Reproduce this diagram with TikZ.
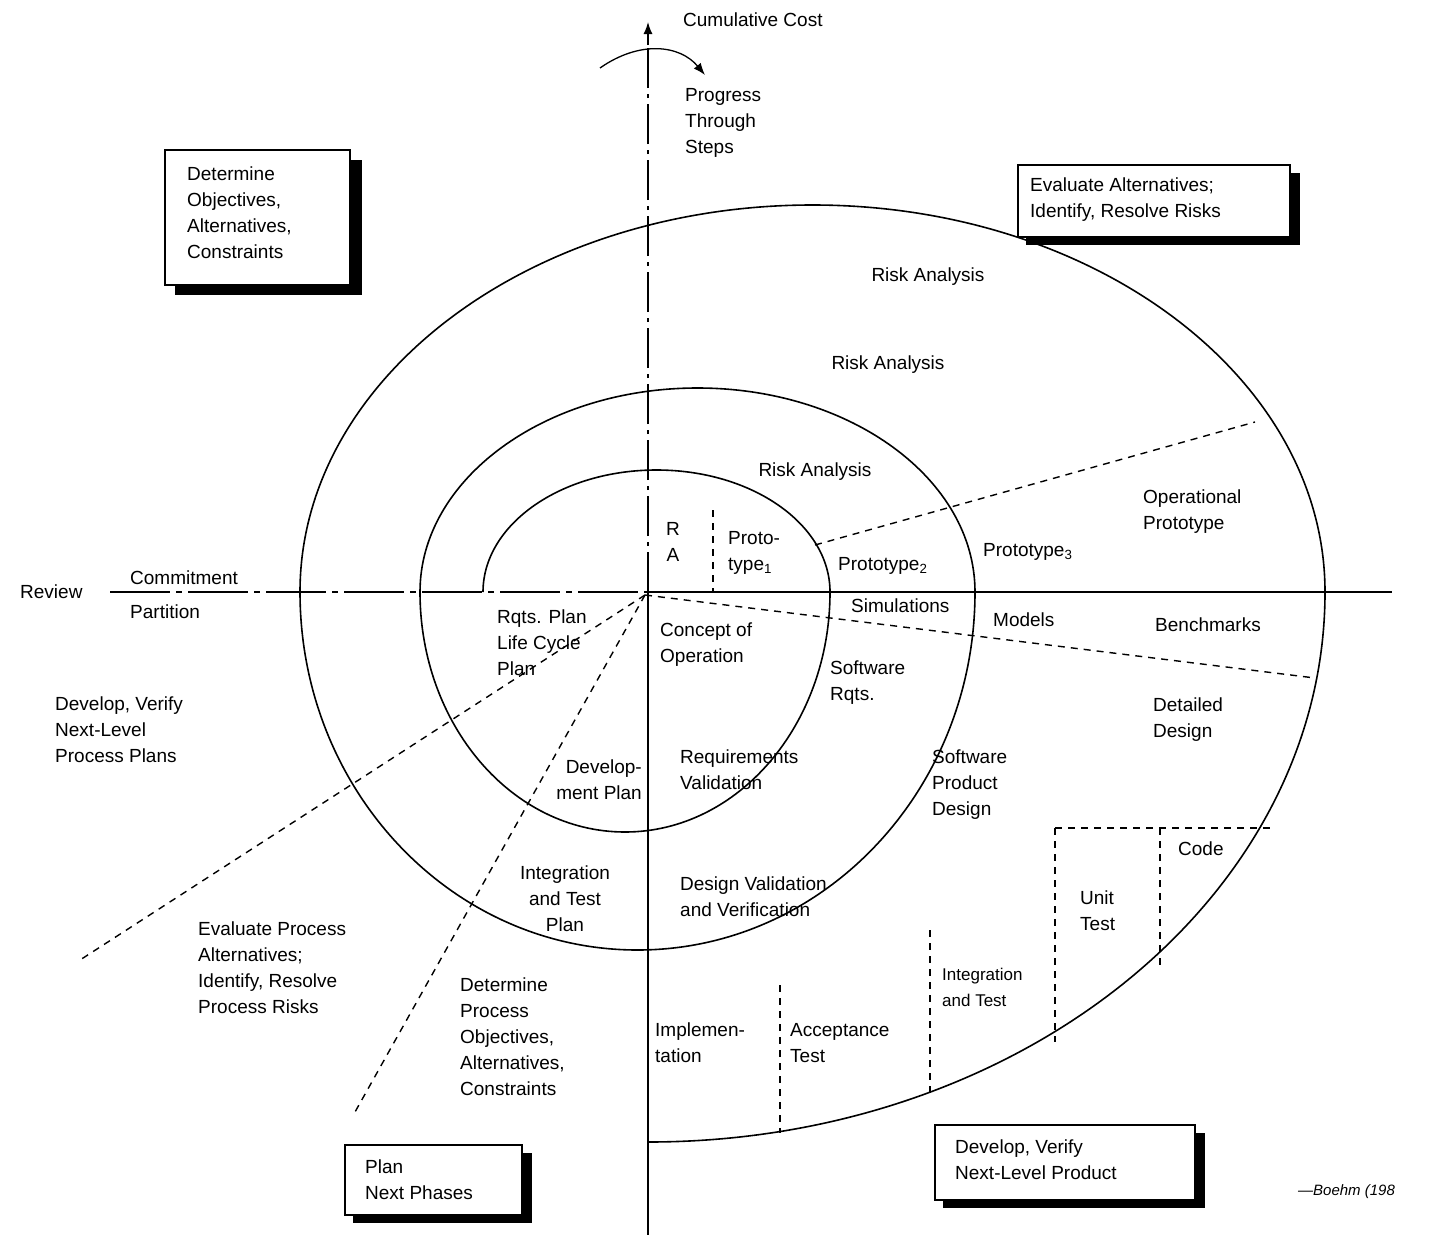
\documentclass[tikz,border=0pt]{standalone}
\usepackage{fontspec}
\setmainfont{Liberation Sans}
\usetikzlibrary{arrows.meta}
\begin{document}
\begin{tikzpicture}[x=1pt,y=-1pt,
  lbl/.style={font=\fontsize{19}{26}\selectfont,align=left,inner sep=0pt},
  lblr/.style={lbl,align=right},
  lblc/.style={lbl,align=center},
  curve/.style={line width=1.6pt},
  dsh/.style={line width=1.4pt,dash pattern=on 7pt off 6pt},
  ax/.style={line width=1.4pt}]
\useasboundingbox (0,0) rectangle (1442,1250);
% axes
\coordinate (vt) at (648,22); \coordinate (vb) at (648,1235);
\coordinate (hl) at (110,592); \coordinate (hr) at (1392,592);
\coordinate (o) at (645,595);
\draw[ax,dash pattern=on 40pt off 6pt on 4pt off 6pt] (648,592) -- (648,40);
\draw[ax,-{Latex[length=12pt,width=9pt]}] (648,45) -- (vt);
\draw[ax] (648,592) -- (vb);
\draw[ax,dash pattern=on 60pt off 6pt on 6pt off 6pt] (hl) -- (648,592);
\draw[ax] (648,592) -- (hr);
% progress arrow
\draw[line width=1.3pt,-{Latex[length=12pt,width=9pt]}] (600,68) .. controls (640,40) and (680,45) .. (705,75);
% spiral
\draw[curve] (483,592) arc[start angle=180,end angle=360,x radius=173.5,y radius=122];
\draw[curve] (830,592) arc[start angle=0,end angle=180,x radius=205,y radius=240];
\draw[curve] (420,592) arc[start angle=180,end angle=360,x radius=277.5,y radius=204];
\draw[curve] (975,592) arc[start angle=0,end angle=180,x radius=337.5,y radius=358];
\draw[curve] (300,592) arc[start angle=180,end angle=360,x radius=512.5,y radius=387];
\draw[curve] (1325,592) arc[start angle=0,end angle=90,x radius=677,y radius=550];
% dashed
\coordinate (d1) at (1255,422); \coordinate (d1s) at (815,545);
\coordinate (d2) at (1315,678);
\coordinate (d3) at (80,960); \coordinate (d4) at (355,1112);
\draw[dsh] (d1s) -- (d1);
\draw[dsh] (o) -- (d2);
\draw[dsh] (o) -- (d3);
\draw[dsh] (o) -- (d4);
\draw[dsh] (713,510) -- (713,592);
\draw[dsh] (780,985) -- (780,1133);
\draw[dsh] (930,930) -- (930,1097);
\draw[dsh] (1055,828) -- (1055,1042);
\draw[dsh] (1160,828) -- (1160,966);
\draw[dsh] (1055,828) -- (1275,828);
% boxes
\fill (175,160) rectangle (362,295);
\draw[line width=1.2pt,fill=white] (165,150) rectangle (350,285);
\node[lbl,anchor=north west] (b1) at (187,167) {Determine\\Objectives,\\Alternatives,\\Constraints};
\fill (1026,173) rectangle (1300,245);
\draw[line width=1.2pt,fill=white] (1018,165) rectangle (1290,237);
\node[lbl,anchor=north west] (b2) at (1030,178) {Evaluate Alternatives;\\Identify, Resolve Risks};
\fill (353,1153) rectangle (532,1223);
\draw[line width=1.2pt,fill=white] (345,1145) rectangle (522,1215);
\node[lbl,anchor=north west] (b3) at (365,1160) {Plan\\Next Phases};
\fill (943,1133) rectangle (1205,1208);
\draw[line width=1.2pt,fill=white] (935,1125) rectangle (1195,1200);
\node[lbl,anchor=north west] (b4) at (955,1140) {Develop, Verify\\Next-Level Product};
% labels
\node[lbl,anchor=west] (t1) at (683,20) {Cumulative Cost};
\node[lbl,anchor=north west] (t2) at (685,88) {Progress\\Through\\Steps};
\node[lblc] (ra1) at (928,277) {Risk Analysis};
\node[lblc] (ra2) at (888,365) {Risk Analysis};
\node[lblc] (ra3) at (815,472) {Risk Analysis};
\node[lblc] (ra) at (673,542) {R\\A};
\node[lbl,anchor=west] (p1) at (728,553) {Proto-\\type\textsubscript{1}};
\node[lbl,anchor=west] (p2) at (838,566) {Prototype\textsubscript{2}};
\node[lbl,anchor=west] (p3) at (983,552) {Prototype\textsubscript{3}};
\node[lbl,anchor=west] (op) at (1143,512) {Operational\\Prototype};
\node[lbl,anchor=west] (rv) at (20,592) {Review};
\node[lbl,anchor=west] (cm) at (130,578) {Commitment};
\node[lbl,anchor=west] (pt) at (130,612) {Partition};
\node[lbl,anchor=west,fill=white,inner sep=1pt] (sim) at (850,606) {Simulations};
\node[lbl,anchor=west] (mod) at (993,620) {Models};
\node[lbl,anchor=west] (ben) at (1155,625) {Benchmarks};
\node[lbl,anchor=north west] (rq) at (497,610) {Rqts. Plan\\Life Cycle\\Plan};
\node[lbl,anchor=north west] (co) at (660,623) {Concept of\\Operation};
\node[lbl,anchor=north west] (sr) at (830,661) {Software\\Rqts.};
\node[lbl,anchor=north west] (dd) at (1153,698) {Detailed\\Design};
\node[lbl,anchor=north west] (dv) at (55,697) {Develop, Verify\\Next-Level\\Process Plans};
\node[lblr,anchor=north east] (dp) at (642,760) {Develop-\\ment Plan};
\node[lbl,anchor=north west] (rqv) at (680,750) {Requirements\\Validation};
\node[lbl,anchor=north west] (spd) at (932,750) {Software\\Product\\Design};
\node[lbl,anchor=north west] (code) at (1178,842) {Code};
\node[lblc,anchor=north] (itp) at (565,866) {Integration\\and Test\\Plan};
\node[lbl,anchor=north west] (dvv) at (680,877) {Design Validation\\and Verification};
\node[lbl,anchor=north west] (ut) at (1080,891) {Unit\\Test};
\node[lbl,anchor=north west] (ep) at (198,922) {Evaluate Process\\Alternatives;\\Identify, Resolve\\Process Risks};
\node[lbl,anchor=north west,font=\fontsize{17}{26}\selectfont] (it) at (942,968) {Integration\\and Test};
\node[lbl,anchor=north west] (dpo) at (460,978) {Determine\\Process\\Objectives,\\Alternatives,\\Constraints};
\node[lbl,anchor=north west] (imp) at (655,1023) {Implemen-\\tation};
\node[lbl,anchor=north west] (acc) at (790,1023) {Acceptance\\Test};
\node[lbl,anchor=west,font=\itshape\fontsize{15}{18}\selectfont] (bo) at (1298,1192) {---Boehm (198};
\end{tikzpicture}
\end{document}
